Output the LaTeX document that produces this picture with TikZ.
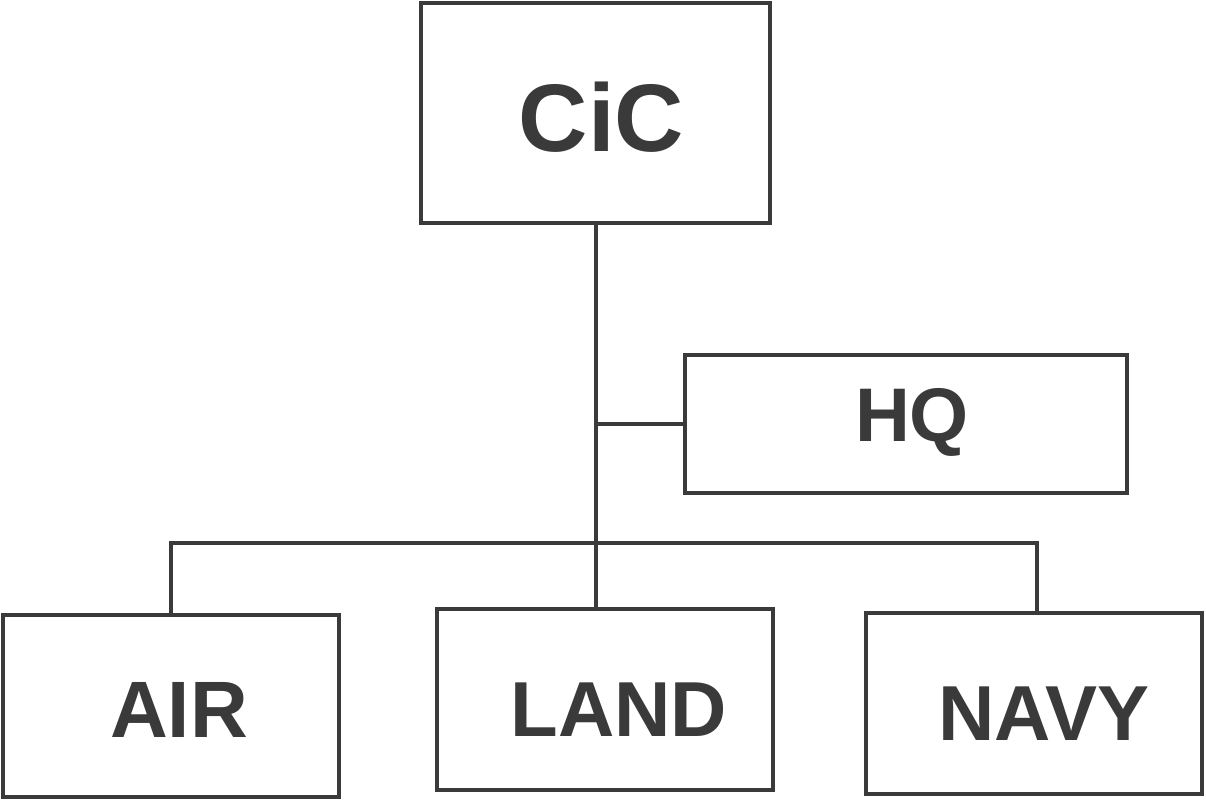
\documentclass[tikz,border=0pt]{standalone}
\usepackage{fontspec}
\setmainfont{Liberation Sans}
\definecolor{ink}{HTML}{3A3A3A}
\begin{document}
\begin{tikzpicture}[x=0.5pt,y=-0.5pt,
  box/.style={draw=ink,line width=2.3pt,rectangle,inner sep=0pt},
  txt/.style={text=ink,font=\bfseries\fontsize{#1}{#1}\selectfont,inner sep=0pt},
  wire/.style={draw=ink,line width=2.3pt}]
\useasboundingbox (0,0) rectangle (1206,801);
\node[box,minimum width=174.5pt,minimum height=110pt,label={[txt=48,xshift=3pt,yshift=-2pt]center:CiC}] (cic) at (595.5,113) {};
\node[box,minimum width=221pt,minimum height=69pt,label={[txt=38,xshift=3pt,yshift=1pt]center:HQ}] (hq) at (906,424) {};
\node[box,minimum width=168pt,minimum height=91pt,label={[txt=40,xshift=4pt,yshift=-2pt]center:AIR}] (air) at (171,706) {};
\node[box,minimum width=168pt,minimum height=90.5pt,label={[txt=39,xshift=7pt,yshift=-5pt]center:LAND}] (land) at (605,699.5) {};
\node[box,minimum width=168pt,minimum height=90.5pt,label={[txt=39,xshift=5pt,yshift=-5pt]center:NAVY}] (navy) at (1034,703.5) {};
\coordinate (j) at (596,424);
\coordinate (bl) at (171,543);
\coordinate (br) at (1037,543);
\draw[wire] (cic.south -| j) -- (land.north -| j);
\draw[wire] (j) -- (hq.west);
\draw[wire] (air.north -| bl) -- (bl) -- (br) -- (navy.north -| br);
\end{tikzpicture}
\end{document}
